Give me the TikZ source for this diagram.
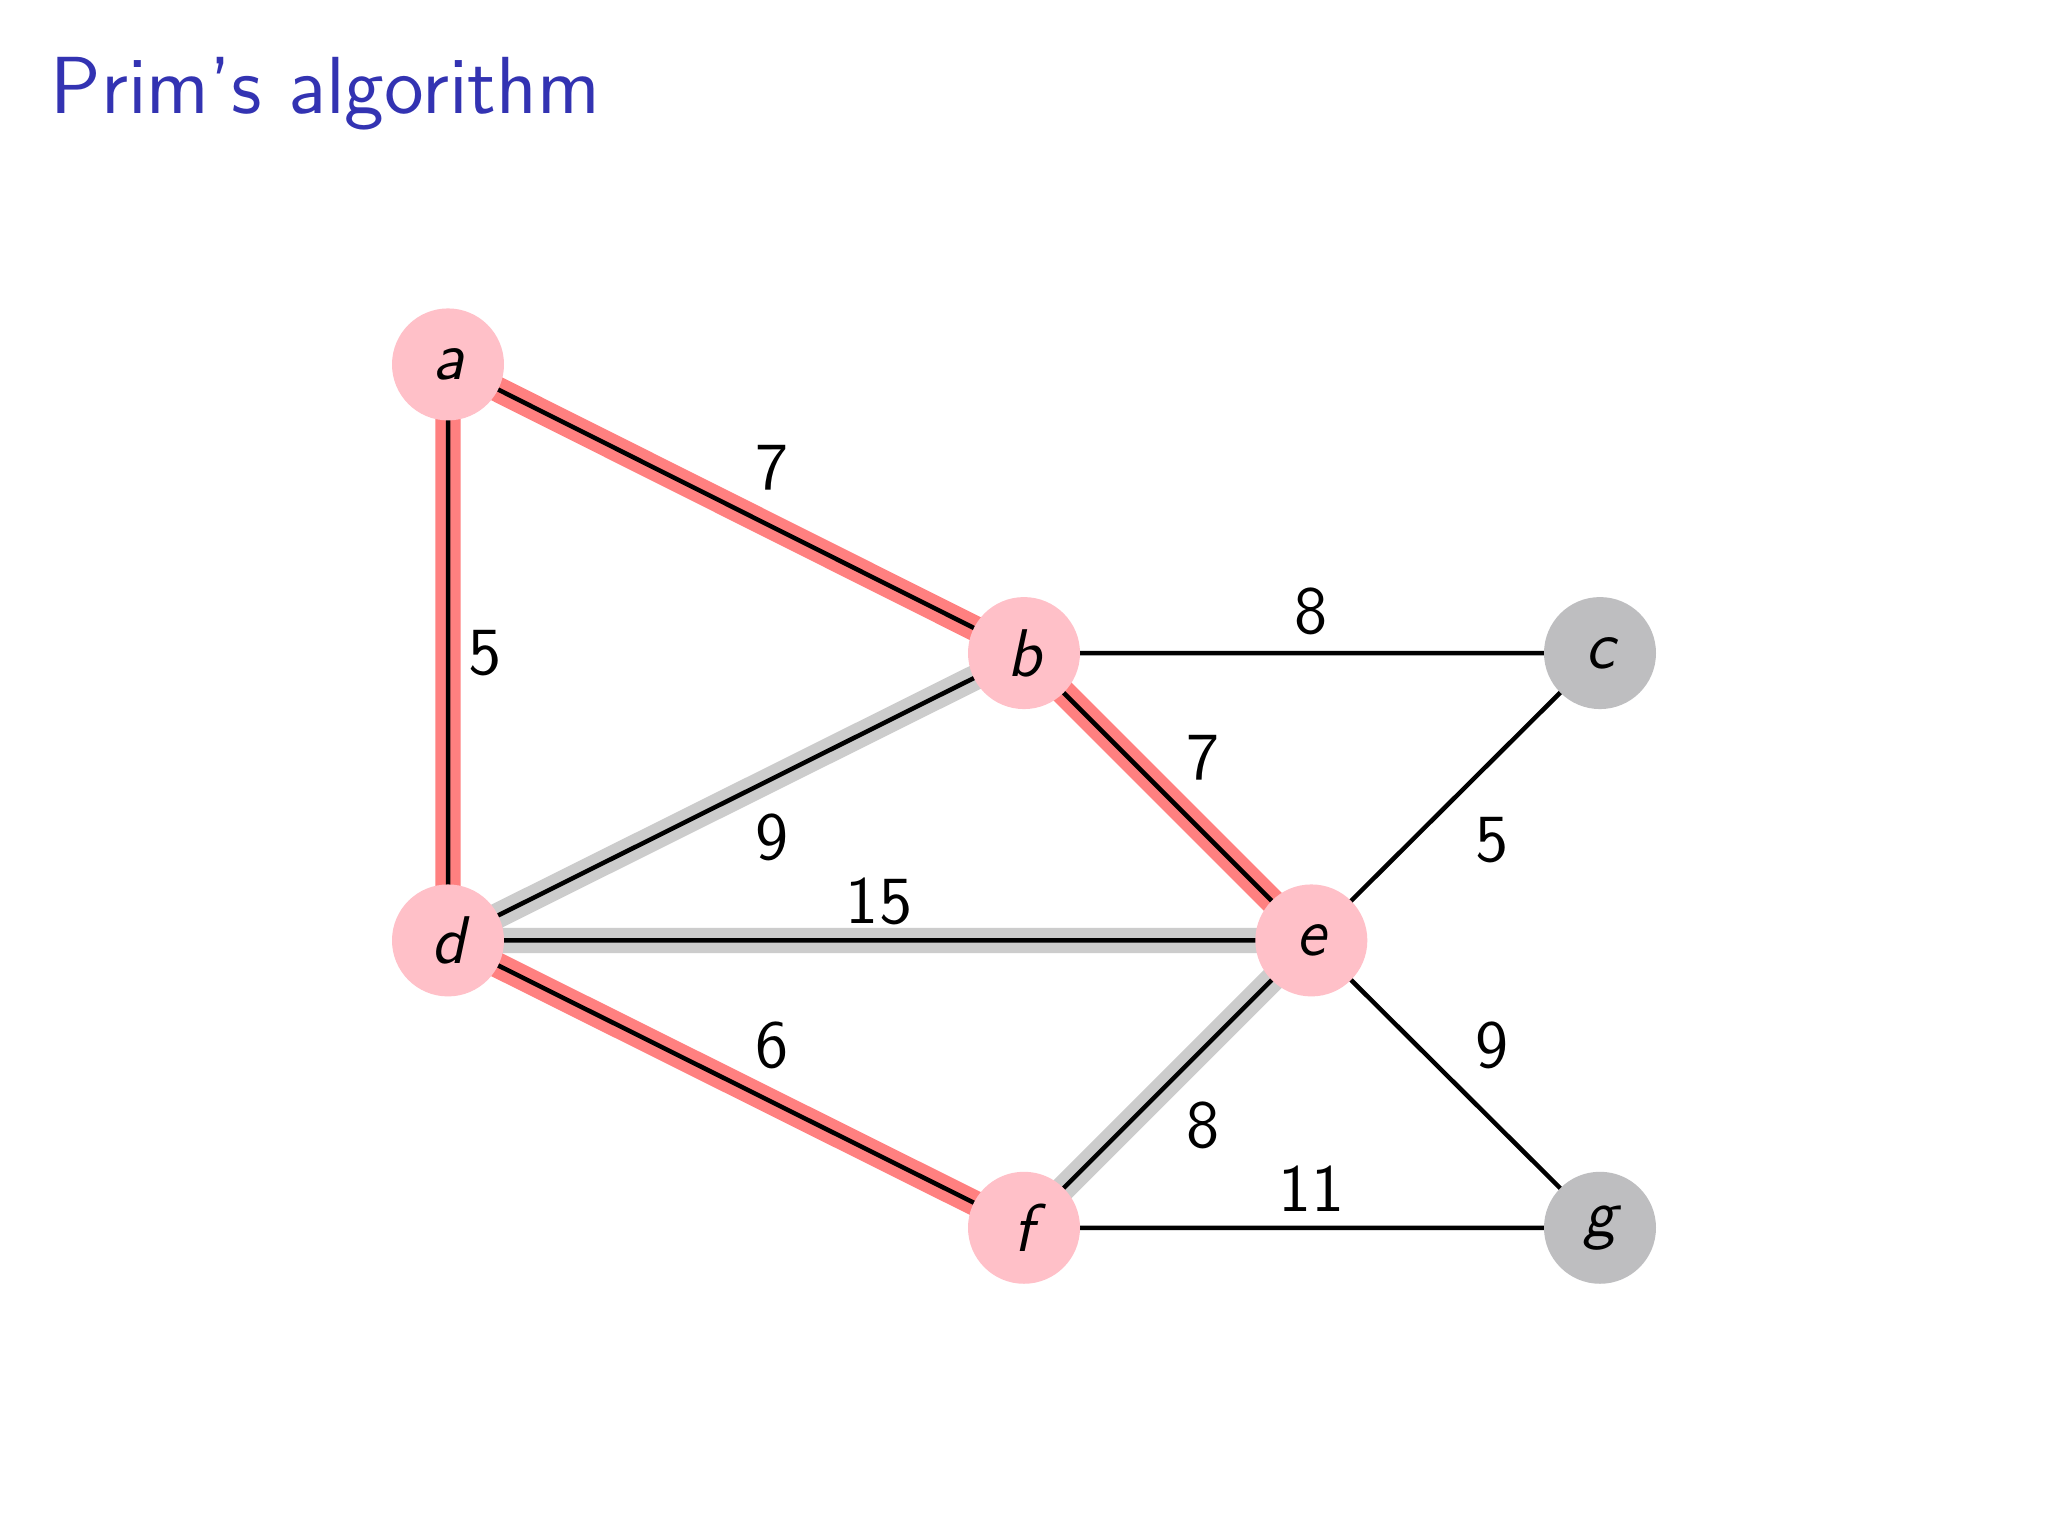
\documentclass[tikz,border=0pt]{standalone}
\begin{document}
\begin{tikzpicture}[x=0.008163cm,y=-0.008163cm,
  every node/.style={font=\sffamily},
  vtx/.style={circle,fill={rgb,255:red,255;green,192;blue,200},minimum size=0.7cm,inner sep=0pt,font=\sffamily\large\itshape},
  gvtx/.style={vtx,fill={rgb,255:red,190;green,190;blue,192}},
  edg/.style={line width=0.8pt},
  red hl/.style={line width=4.5pt,draw={rgb,255:red,255;green,128;blue,128}},
  gray hl/.style={line width=4.5pt,draw={rgb,255:red,204;green,204;blue,204}},
  lbl/.style={font=\sffamily\large}]
\useasboundingbox (0,0) rectangle (1568,1176);
\fill[white] (0,0) rectangle (1568,1176);
\node[anchor=west,inner sep=0pt,font=\sffamily\Large,text={rgb,255:red,51;green,51;blue,178}] (title) at (38,72) {Prim's algorithm};
\coordinate (a) at (343,279); \coordinate (b) at (784,500); \coordinate (c) at (1225,500);
\coordinate (d) at (343,720); \coordinate (e) at (1004,720); \coordinate (f) at (784,940); \coordinate (g) at (1225,940);
\draw[red hl] (a)--(b) (a)--(d) (b)--(e) (d)--(f);
\draw[gray hl] (b)--(d) (d)--(e) (e)--(f);
\draw[edg] (a)--(b) (a)--(d) (b)--(e) (d)--(f) (b)--(d) (d)--(e) (e)--(f) (b)--(c) (c)--(e) (e)--(g) (f)--(g);
\node[vtx] (na) at (a) {a}; \node[vtx] (nb) at (b) {b}; \node[gvtx] (nc) at (c) {c};
\node[vtx] (nd) at (d) {d}; \node[vtx] (ne) at (e) {e}; \node[vtx] (nf) at (f) {f};
\node[gvtx] (ng) at (g) {g};
\node[lbl] (l1) at (591,358) {7};
\node[lbl] (l2) at (371,500) {5};
\node[lbl] (l3) at (1004,468) {8};
\node[lbl] (l4) at (921,580) {7};
\node[lbl] (l5) at (591,641) {9};
\node[lbl] (l6) at (673,690) {15};
\node[lbl] (l7) at (1142,643) {5};
\node[lbl] (l8) at (1142,800) {9};
\node[lbl] (l9) at (591,800) {6};
\node[lbl] (l10) at (921,862) {8};
\node[lbl] (l11) at (1004,910) {11};
\end{tikzpicture}
\end{document}
